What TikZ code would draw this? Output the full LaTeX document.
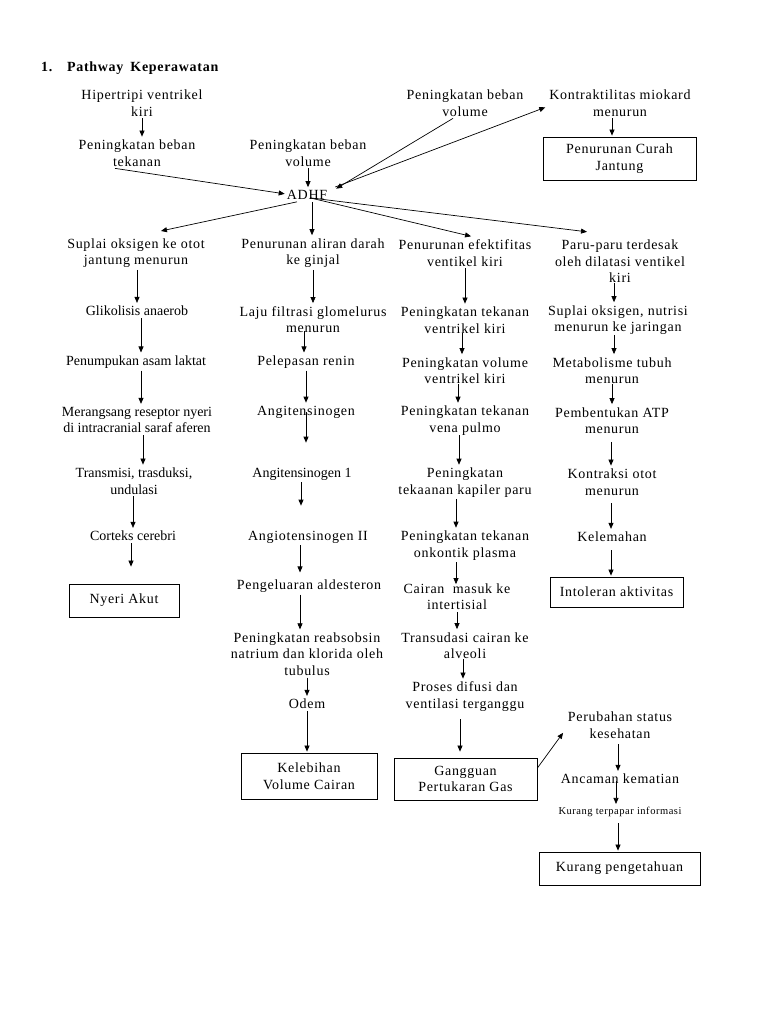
\documentclass[tikz,border=0pt]{standalone}
\usepackage{fontspec}
\setmainfont[LetterSpace=5]{Liberation Serif}
\newfontfamily\plainserif{Liberation Serif}
\usetikzlibrary{arrows.meta,calc}
\begin{document}
\begin{tikzpicture}[x=1pt,y=-1pt,
  txt/.style={align=center,inner sep=2pt,font=\fontsize{14}{16.5}\selectfont},
  ntxt/.style={align=center,inner sep=2pt,font=\plainserif\fontsize{14}{16.5}\selectfont},
  small/.style={align=center,inner sep=2pt,font=\fontsize{10.5}{12}\selectfont},
  box/.style={draw,line width=0.8pt,align=center,inner sep=0pt,font=\fontsize{14}{16.5}\selectfont},
  arr/.style={-{Triangle[length=6pt,width=5pt]},line width=0.7pt,shorten >=1pt}]
\useasboundingbox[fill=white] (0,0) rectangle (768,1024);

\node[anchor=west,inner sep=0pt,font=\fontsize{14}{16}\selectfont\bfseries] (title) at (41,68) {1.\hspace{1.05em}Pathway\hspace{0.5em}Keperawatan};

% top
\node[txt] (hip) at (142,103) {Hipertripi ventrikel\\kiri};
\node[txt] (tek) at (137,153) {Peningkatan beban\\tekanan};
\node[txt] (vol1) at (308,153) {Peningkatan beban\\volume};
\node[txt] (adhf) at (307,195) {ADHF};
\node[txt] (vol2) at (465,103) {Peningkatan beban\\volume};
\node[txt] (kon) at (620,103) {Kontraktilitas miokard\\menurun};
\node[box,minimum width=153,minimum height=43] (pcj) at (619.5,158.5) {Penurunan Curah\\Jantung};

% column 1
\node[txt] (a1) at (136,253) {Suplai oksigen ke otot\\jantung menurun};
\node[ntxt] (a2) at (137,311) {Glikolisis anaerob};
\node[ntxt] (a3) at (136,362) {Penumpukan asam laktat};
\node[ntxt] (a4) at (137,420) {Merangsang reseptor nyeri\\di intracranial saraf aferen};
\node[ntxt] (a5) at (134,481) {Transmisi, trasduksi,\\undulasi};
\node[ntxt] (a6) at (133,536) {Corteks cerebri};
\node[box,minimum width=110,minimum height=33] (a7) at (124,600.5) {Nyeri Akut};

% column 2
\node[txt] (b1) at (313,253) {Penurunan aliran darah\\ke ginjal};
\node[txt] (b2) at (313,319.5) {Laju filtrasi glomelurus\\menurun};
\node[txt] (b3) at (306,362) {Pelepasan renin};
\node[txt] (b4) at (306,412) {Angitensinogen};
\node[ntxt] (b5) at (302,474) {Angitensinogen 1};
\node[txt] (b6) at (308,537) {Angiotensinogen II};
\node[txt] (b7) at (309,586) {Pengeluaran aldesteron};
\node[txt] (b8) at (307,654) {Peningkatan reabsobsin\\natrium dan klorida oleh\\tubulus};
\node[txt] (b9) at (307,704) {Odem};
\node[box,minimum width=136,minimum height=46] (b10) at (309,776) {Kelebihan\\Volume Cairan};

% column 3
\node[txt] (c1) at (465,253) {Penurunan efektifitas\\ventikel kiri};
\node[txt] (c2) at (465,320) {Peningkatan tekanan\\ventrikel kiri};
\node[txt] (c3) at (465,370.5) {Peningkatan volume\\ventrikel kiri};
\node[txt] (c4) at (465,420.5) {Peningkatan tekanan\\vena pulmo};
\node[txt] (c5) at (465,482.5) {Peningkatan\\tekaanan kapiler paru};
\node[txt] (c6) at (465,545.5) {Peningkatan tekanan\\onkontik plasma};
\node[txt] (c7) at (457,596.5) {Cairan\ \ masuk ke\\intertisial};
\node[txt] (c8) at (465,645.5) {Transudasi cairan ke\\alveoli};
\node[txt] (c9) at (465,696.5) {Proses difusi dan\\ventilasi terganggu};
\node[box,minimum width=143,minimum height=42] (c10) at (465.5,779) {Gangguan\\Pertukaran Gas};

% column 4
\node[txt] (d1) at (620,261.5) {Paru-paru terdesak\\oleh dilatasi ventikel\\kiri};
\node[txt] (d2) at (618,320) {Suplai oksigen, nutrisi\\menurun ke jaringan};
\node[txt] (d3) at (612,370.5) {Metabolisme tubuh\\menurun};
\node[txt] (d4) at (612,420.5) {Pembentukan ATP\\menurun};
\node[txt] (d5) at (612,482) {Kontraksi otot\\menurun};
\node[txt] (d6) at (612,537) {Kelemahan};
\node[box,minimum width=133,minimum height=30] (d7) at (616.5,592) {Intoleran aktivitas};

% bottom right
\node[txt] (e1) at (620,725) {Perubahan status\\kesehatan};
\node[txt] (e2) at (620,779) {Ancaman kematian};
\node[small] (e3) at (620,812) {Kurang terpapar informasi};
\node[box,minimum width=161,minimum height=33] (e4) at (619.5,868.5) {Kurang pengetahuan};

% top connectors
\draw[arr] (hip.south) -- (hip.south |- tek.north);
\draw[arr] ([xshift=-22pt]tek.south) -- ([xshift=1pt,yshift=1pt]adhf.west);
\draw[arr] (vol1.south) -- (vol1.south |- adhf.north);
\draw[arr] ([xshift=-12pt]vol2.south) -- ([xshift=6pt,yshift=-1pt]adhf.north east);
\draw[arr] ([xshift=6pt,yshift=8pt]adhf.east) -- ([xshift=-1pt,yshift=-4pt]kon.west);
\draw[arr] ([xshift=-8pt]kon.south) -- ([xshift=-8pt]kon.south |- pcj.north);

% ADHF fan-out
\draw[arr] ([xshift=-10pt]adhf.south) -- ([xshift=24pt,yshift=5pt]a1.north);
\draw[arr] ([xshift=5pt]adhf.south) -- ([xshift=5pt]adhf.south |- b1.north);
\draw[arr] ([xshift=3pt,yshift=4pt]adhf.south) -- ([xshift=7pt,yshift=1pt]c1.north);
\draw[arr] ([xshift=3pt,yshift=4pt]adhf.south) -- ([xshift=-32pt,yshift=6pt]d1.north);

% column 1 arrows
\draw[arr] ([xshift=1pt]a1.south) -- ([xshift=1pt]a1.south |- a2.north);
\draw[arr] ([xshift=4pt]a2.south) -- ([xshift=4pt]a2.south |- a3.north);
\draw[arr] ([xshift=5pt]a3.south) -- ([xshift=5pt]a3.south |- a4.north);
\draw[arr] ([xshift=6pt]a4.south) -- ([xshift=6pt]a4.south |- a5.north);
\draw[arr] ([xshift=-1pt]a5.south) -- ([xshift=-1pt]a5.south |- a6.north);
\draw[arr] ([xshift=-2pt]a6.south) -- ([xshift=-2pt,yshift=16pt]a6.south |- a7.north);

% column 2 arrows
\draw[arr] (b1.south) -- (b1.south |- b2.north);
\draw[arr] ([xshift=-9pt,yshift=4pt]b2.south) -- ([xshift=-9pt]b2.south |- b3.north);
\draw[arr] (b3.south) -- (b3.south |- b4.north);
\draw[arr] ([yshift=8pt]b4.south) -- ([yshift=22pt]b4.south |- b5.north);
\draw[arr] ([xshift=-1pt]b5.south) -- ([xshift=-1pt,yshift=22pt]b5.south |- b6.north);
\draw[arr] ([xshift=-8pt]b6.south) -- ([xshift=-8pt,yshift=4pt]b6.south |- b7.north);
\draw[arr] ([xshift=-9pt]b7.south) -- ([xshift=-9pt]b7.south |- b8.north);
\draw[arr] (b8.south) -- (b8.south |- b9.north);
\draw[arr] (b9.south) -- (b9.south |- b10.north);

% column 3 arrows
\draw[arr] (c1.south) -- (c1.south |- c2.north);
\draw[arr] ([xshift=-3pt,yshift=2pt]c2.south) -- ([xshift=-3pt]c2.south |- c3.north);
\draw[arr] ([xshift=-7pt,yshift=2pt]c3.south) -- ([xshift=-7pt]c3.south |- c4.north);
\draw[arr] ([xshift=-6pt,yshift=2pt]c4.south) -- ([xshift=-6pt]c4.south |- c5.north);
\draw[arr] ([xshift=-9pt]c5.south) -- ([xshift=-9pt]c5.south |- c6.north);
\draw[arr] ([xshift=-9pt]c6.south) -- ([xshift=-9pt,yshift=-4pt]c6.south |- c7.north);
\draw[arr] (c7.south) -- (c7.south |- c8.north);
\draw[arr] ([xshift=-2pt,yshift=2pt]c8.south) -- ([xshift=-2pt]c8.south |- c9.north);
\draw[arr] ([xshift=-5pt,yshift=-6pt]c9.south) -- ([xshift=-5pt,yshift=5pt]c9.south |- c10.north);

% column 4 arrows
\draw[arr] ([xshift=-6pt,yshift=2pt]d1.south) -- ([xshift=-6pt]d1.south |- d2.north);
\draw[arr] ([xshift=-4pt,yshift=2pt]d2.south) -- ([xshift=-4pt]d2.south |- d3.north);
\draw[arr] ([yshift=2pt]d3.south) -- (d3.south |- d4.north);
\draw[arr] ([xshift=-1pt,yshift=-6pt]d4.south) -- ([xshift=-1pt]d4.south |- d5.north);
\draw[arr] ([xshift=-1pt,yshift=-6pt]d5.south) -- ([xshift=-1pt]d5.south |- d6.north);
\draw[arr] ([xshift=-1pt,yshift=-6pt]d6.south) -- ([xshift=-1pt]d6.south |- d7.north);

% bottom right arrows
\draw[arr] ([yshift=11pt]c10.east) -- ([xshift=-2pt,yshift=-7pt]e1.west);
\draw[arr] ([xshift=-2pt,yshift=-4pt]e1.south) -- ([xshift=-2pt]e1.south |- e2.north);
\draw[arr] ([xshift=-4pt,yshift=5pt]e2.south) -- ([xshift=-4pt]e2.south |- e3.north);
\draw[arr] ([xshift=-2pt,yshift=-4pt]e3.south) -- ([xshift=-2pt]e3.south |- e4.north);
\end{tikzpicture}
\end{document}
